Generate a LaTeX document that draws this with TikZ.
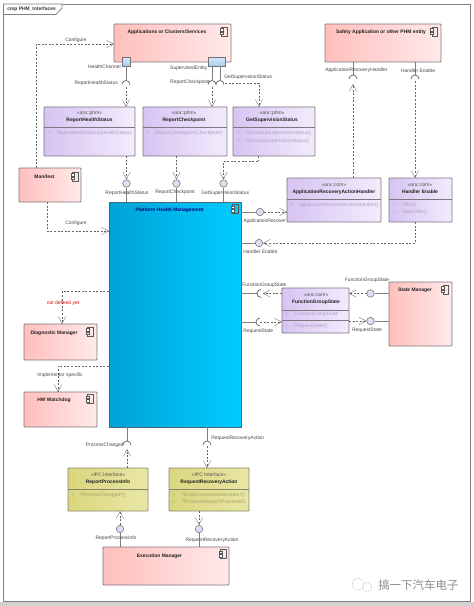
\documentclass[tikz,border=0pt]{standalone}
\usepackage{fontspec}
\setmainfont{Liberation Sans}
\newfontfamily\cjkf{Noto Sans CJK SC}
\usetikzlibrary{arrows.meta,calc}
\newcommand{\fsz}{\fontsize{3.7}{4.4}\selectfont}
\newcommand{\fbz}{\fontsize{3.7}{4.4}\selectfont\bfseries}
\definecolor{pinkL}{HTML}{FFBFBC}
\definecolor{pinkR}{HTML}{FFEAEA}
\definecolor{purpL}{HTML}{D6C4F2}
\definecolor{purpR}{HTML}{F3ECFC}
\definecolor{yelL}{HTML}{DAD67E}
\definecolor{yelR}{HTML}{E9E7A6}
\definecolor{phmL}{HTML}{00A2D6}
\definecolor{phmM}{HTML}{00C4F8}
\definecolor{phmR}{HTML}{00CCFF}
\definecolor{bord}{HTML}{7E7680}
\definecolor{ybord}{HTML}{86866A}
\definecolor{portT}{HTML}{D4E8FA}
\definecolor{portB}{HTML}{A9CDEE}
\definecolor{lollif}{HTML}{E4DAF6}
\definecolor{membc}{HTML}{AC9FC4}
\definecolor{ymemb}{HTML}{A2A06A}
\tikzset{
  x=0.75pt,y=-0.75pt,
  solidline/.style={draw=black!50,line width=0.75pt},
  dep/.style={draw=black!60,line width=0.4pt,dash pattern=on 1.5pt off 1.2pt,-{Straight Barb[length=5.2pt,width=5.4pt,line width=0.3pt,black!55]}},
  plaindash/.style={draw=black!60,line width=0.4pt,dash pattern=on 1.5pt off 1.2pt},
  lolli/.style={circle,draw=black!55,fill=lollif,line width=0.4pt,minimum size=5.6pt,inner sep=0pt},
  sock/.style={draw=black!70,line width=0.45pt},
  lab/.style={font=\fsz,text=black!72,inner sep=0pt},
  ttl/.style={font=\fbz,text=black!88,inner sep=0pt},
  ster/.style={font=\fsz,text=black!68,inner sep=0pt},
  memb/.style={font=\fsz,text=membc,inner sep=0pt,anchor=west},
  yemb/.style={font=\fsz,text=ymemb,inner sep=0pt,anchor=west},
  pinkbox/.style={draw=bord,line width=0.7pt,rounded corners=0.6pt,left color=pinkL,right color=pinkR},
  purpbox/.style={draw=bord,line width=0.7pt,rounded corners=0.6pt,left color=purpL,right color=purpR},
  yelbox/.style={draw=ybord,line width=0.7pt,rounded corners=0.6pt,left color=yelL,right color=yelR},
  phmbox/.style={draw=black!60!cyan,line width=0.7pt,left color=phmL,middle color=phmM,right color=phmR},
  portbox/.style={draw=black!55,line width=0.5pt,top color=portT,bottom color=portB},
  divl/.style={draw=bord,line width=0.5pt},
  cicon/.pic={
    \draw[black!65,line width=0.4pt] (-2.5,-4.5) rectangle (3,4.5);
    \draw[black!65,line width=0.4pt,fill=white] (-4.2,-2.8) rectangle (-0.8,-0.6);
    \draw[black!65,line width=0.4pt,fill=white] (-4.2,0.6) rectangle (-0.8,2.8);
  }
}
\newcommand{\bx}[6]{% name x1 y1 x2 y2 style
  \pgfmathsetmacro{\bxw}{(#4-#2)*0.75}\pgfmathsetmacro{\bxh}{(#5-#3)*0.75}
  \node[#6,minimum width=\bxw pt,minimum height=\bxh pt,inner sep=0pt,outer sep=0pt] (#1) at ({(#2+#4)/2},{(#3+#5)/2}) {};
}
\newcommand{\sockdown}[1]{\draw[sock] (#1) ++(-3pt,-3pt) arc[start angle=180,end angle=0,radius=3pt];}
\newcommand{\sockright}[1]{\draw[sock] (#1) ++(3pt,3pt) arc[start angle=90,end angle=270,radius=3pt];}
\begin{document}
\begin{tikzpicture}
\useasboundingbox (0,0) rectangle (474,606);
\fill[white] (0,0) rectangle (474,606);
\fill[black!18] (0,601.5) rectangle (474,606);
% frame
\draw[black!50,line width=0.6pt] (3.5,4) rectangle (470,601);
\draw[black!50,line width=0.5pt,fill=white] (3.5,4) -- (62,4) -- (62,8) -- (56,14.5) -- (3.5,14.5) -- cycle;
\node[font=\fbz,text=black!80,inner sep=0pt,anchor=west] (frametitle) at (7,9) {cmp PHM\_Interfaces};

% components
\bx{apps}{114}{24}{231}{62}{pinkbox}
\bx{safety}{325}{24}{441}{62}{pinkbox}
\bx{manifest}{19}{168}{81}{202}{pinkbox}
\bx{phm}{109}{202}{241}{427}{phmbox}
\bx{diag}{24}{324}{97}{360}{pinkbox}
\bx{hw}{24}{392}{97}{427}{pinkbox}
\bx{sm}{389}{282}{452}{346}{pinkbox}
\bx{em}{103}{547}{229}{585}{pinkbox}
% interface boxes
\bx{rhs}{44}{107}{135}{156}{purpbox}
\bx{rcp}{143}{107}{227}{156}{purpbox}
\bx{gss}{233}{107}{315}{156}{purpbox}
\bx{arh}{287}{178}{381}{222}{purpbox}
\bx{hen}{389}{178}{452}{222}{purpbox}
\bx{fgs}{282}{288}{349}{333}{purpbox}
\bx{rpi}{68}{468}{148}{511}{yelbox}
\bx{rra}{169}{468}{249}{511}{yelbox}
\draw[divl] (44,127) -- (135,127);
\draw[divl] (143,127) -- (227,127);
\draw[divl] (233,127) -- (315,127);
\draw[divl] (287,199) -- (381,199);
\draw[divl] (389,199) -- (452,199);
\draw[divl] (282,310) -- (349,310);
\draw[divl] (282,320) -- (349,320);
\draw[draw=ybord,line width=0.5pt] (68,489) -- (148,489);
\draw[draw=ybord,line width=0.5pt] (169,489) -- (249,489);

% ports
\bx{hcport}{122}{57.5}{130}{66}{portbox}
\bx{seport}{208}{57.5}{225}{66}{portbox}

% component titles and icons
\node[ttl] (t1) at (167,32.5) {Applications or Clusters/Services};
\node[ttl] (t2) at (381,32.5) {Safety Application or other PHM entity};
\node[ttl] (t3) at (44.5,177) {Manifest};
\node[ttl,text=blue!50!black] (t4) at (169.5,210) {Platform Health Management};
\node[ttl] (t5) at (54,333) {Diagnostic Manager};
\node[ttl] (t6) at (54,400.5) {HW Watchdog};
\node[ttl] (t7) at (415,290) {State Manager};
\node[ttl] (t8) at (159.5,556) {Execution Manager};
\pic at (224,31.5) {cicon};
\pic at (434.5,31.5) {cicon};
\pic at (75,176.5) {cicon};
\pic at (235,209) {cicon};
\pic at (90,331.5) {cicon};
\pic at (90,399) {cicon};
\pic at (445.5,289.5) {cicon};
\pic at (223,554) {cicon};

% class texts
\node[ster] (s1) at (89.5,113.5) {«ara::phm»};
\node[ttl] (n1) at (89.5,120.5) {ReportHealthStatus};
\node[ster] (s2) at (184,113.5) {«ara::phm»};
\node[ttl] (n2) at (184,120.5) {ReportCheckpoint};
\node[ster] (s3) at (272,113.5) {«ara::phm»};
\node[ttl] (n3) at (272,120.5) {GetSupervisionStatus};
\node[ster] (s4) at (334,185) {«ara::com»};
\node[ttl] (n4) at (334,192) {ApplicationRecoveryActionHandler};
\node[ster] (s5) at (420,185) {«ara::com»};
\node[ttl] (n5) at (420,192) {Handler Enable};
\node[ster] (s6) at (316,295) {«ara::com»};
\node[ttl] (n6) at (316,302) {FunctionGroupState};
\node[ster] (s7) at (108,475) {«IPC Interface»};
\node[ttl] (n7) at (108,482.5) {ReportProcessInfo};
\node[ster] (s8) at (209,475) {«IPC Interface»};
\node[ttl] (n8) at (209,482.5) {RequestRecoveryAction};

% members
\node[memb] (m0) at (48,133) {+};
\node[memb] (m1) at (57,133) {ReportHealthStatus(HealthStatus)};
\node[memb] (m2) at (146,133) {+};
\node[memb] (m3) at (155,133) {ReportCheckpoint(Checkpoint)};
\node[memb] (m4) at (237,133) {+};
\node[memb] (m5) at (246,133) {GetGlobalSupervisionStatus()};
\node[memb] (m6) at (237,141) {+};
\node[memb] (m7) at (246,141) {GetLocalSupervisionStatus()};
\node[memb] (m8) at (290,205) {+};
\node[memb] (m9) at (299,205) {ApplicationRecoveryActionHandler()};
\node[memb] (m10) at (393,205) {+};
\node[memb] (m11) at (402,205) {Offer()};
\node[memb] (m12) at (393,212) {+};
\node[memb] (m13) at (402,212) {StopOffer()};
\node[memb] (m14) at (285,314.5) {+};
\node[memb] (m15) at (294,314.5) {FunctionGroupState};
\node[memb] (m16) at (285,326) {+};
\node[memb] (m17) at (294,326) {RequestState()};
\node[yemb] (m18) at (71,495) {+};
\node[yemb] (m19) at (80,495) {*ProcessChanged*()};
\node[yemb] (m20) at (172,495) {+};
\node[yemb] (m21) at (182,495) {*EnterUnrecoverableState*()};
\node[yemb] (m22) at (172,502) {+};
\node[yemb] (m23) at (182,502) {*ProcessRestart*(ProcessID)};

% top sockets
\coordinate (s1a) at (126,80.5);
\coordinate (s1b) at (126,87);
\coordinate (s2a) at (212,80.5);
\coordinate (s2b) at (212,87);
\coordinate (s3a) at (220,80.5);
\coordinate (s3b) at (225,83);
\coordinate (s3c) at (259,83);
\draw[solidline] (hcport.south -| s1a) -- (s1a); \sockdown{s1a}
\draw[solidline] (seport.south -| s2a) -- (s2a); \sockdown{s2a}
\draw[solidline] (seport.south -| s3a) -- (s3a); \sockdown{s3a}
\draw[dep] (s1b) -- (rhs.north -| s1b);
\draw[dep] (s2b) -- (rcp.north -| s2b);
\draw[dep] (s3b) -- (s3c) -- (gss.north -| s3c);

% lollipops to PHM
\node[lolli] (l1) at (126.5,183.5) {};
\node[lolli] (l2) at (176.5,183.5) {};
\node[lolli] (l3) at (223.5,183.5) {};
\draw[solidline] (l1) -- (phm.north -| l1);
\draw[solidline] (l2) -- (phm.north -| l2);
\draw[solidline] (l3) -- (phm.north -| l3);
\draw[dep] (rhs.south -| l1) -- (l1);
\draw[dep] (rcp.south -| l2) -- (l2);
\coordinate (g1) at (258,161);
\draw[plaindash] (gss.south -| g1) -- (g1);
\draw[dep] (g1) -- (g1 -| l3) -- (l3);

% Safety sockets
\coordinate (s4a) at (353,75);
\coordinate (s4b) at (353,84);
\coordinate (s5a) at (415,75);
\coordinate (s5b) at (415,81);
\draw[solidline] (safety.south -| s4a) -- (s4a); \sockdown{s4a}
\draw[solidline] (safety.south -| s5a) -- (s5a); \sockdown{s5a}
\draw[dep] (arh.north -| s4b) -- (s4b);
\draw[dep] (s5b) -- (hen.north -| s5b);

% right lollipops
\node[lolli] (l4) at (260,212) {};
\node[lolli] (l5) at (259,243) {};
\draw[solidline] (phm.east |- l4) -- (l4);
\draw[solidline] (phm.east |- l5) -- (l5);
\draw[dep] (l4) -- (arh.west |- l4);
\coordinate (h1) at (415,243);
\draw[plaindash] (hen.south -| h1) -- (h1);
\draw[dep] (h1) -- (l5);

% FunctionGroupState
\coordinate (s6a) at (257,293.5);
\coordinate (s6b) at (263,293.5);
\coordinate (s7a) at (256,322);
\coordinate (s7b) at (260,322);
\draw[solidline] (phm.east |- s6a) -- (s6a); \sockright{s6a}
\draw[solidline] (phm.east |- s7a) -- (s7a); \sockright{s7a}
\draw[dep] (fgs.west |- s6b) -- (s6b);
\draw[dep] (s7b) -- (fgs.west |- s7b);
\node[lolli] (l6) at (370.5,293.5) {};
\node[lolli] (l7) at (370.5,321) {};
\draw[solidline] (l6) -- (sm.west |- l6);
\draw[solidline] (l7) -- (sm.west |- l7);
\draw[dep] (l6) -- (fgs.east |- l6);
\draw[dep] (fgs.east |- l7) -- (l7);

% bottom sockets
\coordinate (s8a) at (127,441);
\coordinate (s8b) at (127,449);
\coordinate (s9a) at (207,441);
\coordinate (s9b) at (207,446);
\draw[solidline] (phm.south -| s8a) -- (s8a); \sockdown{s8a}
\draw[solidline] (phm.south -| s9a) -- (s9a); \sockdown{s9a}
\draw[dep] (rpi.north -| s8b) -- (s8b);
\draw[dep] (s9b) -- (rra.north -| s9b);
\node[lolli] (l8) at (120,529) {};
\node[lolli] (l9) at (199,529) {};
\draw[solidline] (l8) -- (em.north -| l8);
\draw[solidline] (l9) -- (em.north -| l9);
\draw[dep] (l8) -- (rpi.south -| l8);
\draw[dep] (rra.south -| l9) -- (l9);

% left dependencies
\coordinate (c1) at (36,44);
\coordinate (c2) at (47,231);
\coordinate (c3) at (62,291.5);
\coordinate (c4) at (58,366);
\draw[dep] (manifest.north -| c1) -- (c1) -- (apps.west |- c1);
\draw[dep] (manifest.south -| c2) -- (c2) -- (phm.west |- c2);
\draw[dep] (phm.west |- c3) -- (c3) -- (diag.north -| c3);
\draw[dep] (phm.west |- c4) -- (c4) -- (hw.north -| c4);

% labels
\node[lab] (a1) at (76,40) {Configure};
\node[lab] (a2) at (76,223.5) {Configure};
\node[lab,text=red!85!black] (a3) at (63,303.5) {not defined yet};
\node[lab] (a4) at (60,375) {Implementor specific};
\node[lab,anchor=east] (a5) at (121,66.5) {HealthChannel};
\node[lab,anchor=east] (a6) at (118,83) {ReportHealthStatus};
\node[lab,anchor=east] (a7) at (207.5,68.5) {SupervisedEntity};
\node[lab,anchor=east] (a8) at (210,82.5) {ReportCheckpoint};
\node[lab,anchor=west] (a9) at (224,77) {GetSupervisionStatus};
\node[lab] (a10) at (127,193.5) {ReportHealthStatus};
\node[lab] (a11) at (175,192.5) {ReportCheckpoint};
\node[lab,anchor=west] (a12) at (201,193) {GetSupervisionStatus};
\node[lab] (a13) at (356.5,70.5) {ApplicationRecoveryHandler};
\node[lab] (a14) at (418,70.5) {Handler Enable};
\node[lab,anchor=west] (a15) at (243,221.5) {ApplicationRecover};
\node[lab,anchor=west] (a16) at (243,252) {Handler Enable};
\node[lab,anchor=west] (a17) at (242,285) {FunctionGroupState};
\node[lab,anchor=west] (a18) at (243,331.5) {RequestState};
\node[lab] (a19) at (367,280) {FunctionGroupState};
\node[lab] (a20) at (367,330) {RequestState};
\node[lab,anchor=east] (a21) at (124,445) {ProcessChanged};
\node[lab,anchor=west] (a22) at (211,438) {RequestRecoveryAction};
\node[lab] (a23) at (116,538) {ReportProcessInfo};
\node[lab] (a24) at (212,540) {RequestRecoveryAction};

% watermark
\draw[black!22,line width=0.5pt,dash pattern=on 1pt off 0.8pt] (358,584) circle[radius=4.4pt];
\draw[black!22,line width=0.5pt,dash pattern=on 1pt off 0.8pt] (367,587) circle[radius=3.4pt];
\node[font=\cjkf\fontsize{8.6}{10}\selectfont,text=black!45,inner sep=0pt,anchor=west] (wm) at (378,585) {搞一下汽车电子};
\end{tikzpicture}
\end{document}
